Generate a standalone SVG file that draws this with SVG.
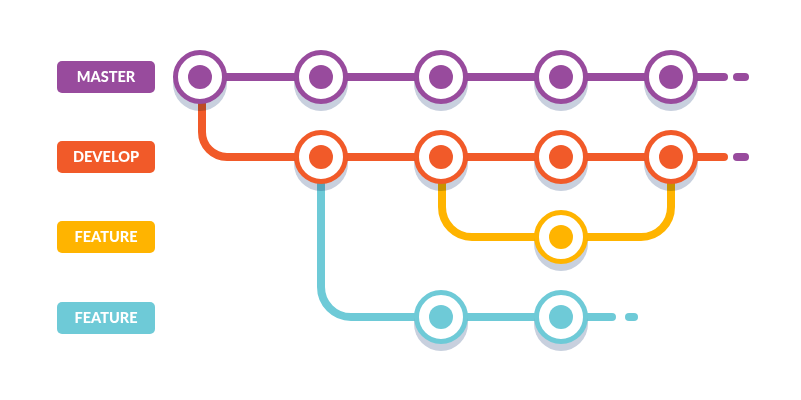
<svg xmlns="http://www.w3.org/2000/svg" width="801" height="400" viewBox="0 0 801 400">
<style>
.lbl{font-family:Lato,"Open Sans","Liberation Sans",sans-serif;font-weight:900;font-size:14.5px;fill:#fff;text-anchor:middle}
.ln{fill:none;stroke-width:8;stroke-linecap:round;stroke-linejoin:round}
.sh{fill:#c8d0de;mix-blend-mode:multiply}
.ring{fill:#fff;stroke-width:5}
.p{stroke:#984b9d}.pf{fill:#984b9d}
.o{stroke:#f15a29}.of{fill:#f15a29}
.y{stroke:#ffb400}.yf{fill:#ffb400}
.t{stroke:#6ecad7}.tf{fill:#6ecad7}
</style>
<rect width="801" height="400" fill="#fff"/>
<g id="labels">
<g id="label-master"><rect x="57" y="61" width="98" height="32" rx="5" class="pf"/><text x="106" y="82" class="lbl">MASTER</text></g>
<g id="label-develop"><rect x="57" y="141" width="98" height="32" rx="5" class="of"/><text x="106" y="162" class="lbl">DEVELOP</text></g>
<g id="label-feature1"><rect x="57" y="221" width="98" height="32" rx="5" class="yf"/><text x="106" y="242" class="lbl">FEATURE</text></g>
<g id="label-feature2"><rect x="57" y="302" width="98" height="32" rx="5" class="tf"/><text x="106" y="323" class="lbl">FEATURE</text></g>
</g>
<g id="connectors">
<path class="ln p" d="M200,77 H724"/>
<path class="ln p" d="M737,77 H745"/>
<path class="ln o" d="M202,77 V132 A25,25 0 0 0 227,157 H724"/>
<path class="ln p" d="M737,157 H745"/>
<path class="ln t" d="M321,157 V287 A30,30 0 0 0 351,317 H612"/>
<path class="ln t" d="M629,317 H634"/>
<path class="ln y" d="M442,157 V207 A30,30 0 0 0 472,237 H641 A30,30 0 0 0 671,207 V157"/>
</g>
<g id="shadows">
<circle class="sh" cx="200" cy="84" r="27"/>
<circle class="sh" cx="321" cy="84" r="27"/>
<circle class="sh" cx="441" cy="84" r="27"/>
<circle class="sh" cx="561" cy="84" r="27"/>
<circle class="sh" cx="671" cy="84" r="27"/>
<circle class="sh" cx="321" cy="164" r="27"/>
<circle class="sh" cx="441" cy="164" r="27"/>
<circle class="sh" cx="561" cy="164" r="27"/>
<circle class="sh" cx="671" cy="164" r="27"/>
<circle class="sh" cx="561" cy="244" r="27"/>
<circle class="sh" cx="441" cy="324" r="27"/>
<circle class="sh" cx="561" cy="324" r="27"/>
</g>
<g id="m1"><circle class="ring p" cx="200" cy="77" r="24.5"/><circle class="pf" cx="200" cy="77" r="12"/></g>
<g id="m2"><circle class="ring p" cx="321" cy="77" r="24.5"/><circle class="pf" cx="321" cy="77" r="12"/></g>
<g id="m3"><circle class="ring p" cx="441" cy="77" r="24.5"/><circle class="pf" cx="441" cy="77" r="12"/></g>
<g id="m4"><circle class="ring p" cx="561" cy="77" r="24.5"/><circle class="pf" cx="561" cy="77" r="12"/></g>
<g id="m5"><circle class="ring p" cx="671" cy="77" r="24.5"/><circle class="pf" cx="671" cy="77" r="12"/></g>
<g id="d1"><circle class="ring o" cx="321" cy="157" r="24.5"/><circle class="of" cx="321" cy="157" r="12"/></g>
<g id="d2"><circle class="ring o" cx="441" cy="157" r="24.5"/><circle class="of" cx="441" cy="157" r="12"/></g>
<g id="d3"><circle class="ring o" cx="561" cy="157" r="24.5"/><circle class="of" cx="561" cy="157" r="12"/></g>
<g id="d4"><circle class="ring o" cx="671" cy="157" r="24.5"/><circle class="of" cx="671" cy="157" r="12"/></g>
<g id="f1"><circle class="ring y" cx="561" cy="237" r="24.5"/><circle class="yf" cx="561" cy="237" r="12"/></g>
<g id="t1"><circle class="ring t" cx="441" cy="317" r="24.5"/><circle class="tf" cx="441" cy="317" r="12"/></g>
<g id="t2"><circle class="ring t" cx="561" cy="317" r="24.5"/><circle class="tf" cx="561" cy="317" r="12"/></g>
</svg>
